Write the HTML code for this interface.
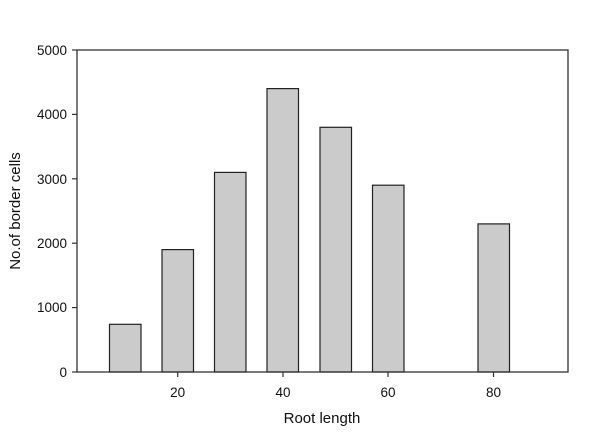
<!DOCTYPE html>
<html><head><style>body{margin:0;background:#fff}</style></head><body>
<svg width="613" height="429" xmlns="http://www.w3.org/2000/svg" font-family="Liberation Sans, sans-serif">
<rect width="613" height="429" fill="#fff"/>
<g fill="#cbcbcb" stroke="#222" stroke-width="1.2">
<rect x="109.5" y="324.3" width="31.5" height="47.7"/>
<rect x="162" y="249.6" width="31.5" height="122.4"/>
<rect x="214.5" y="172.4" width="31.5" height="199.6"/>
<rect x="267" y="88.6" width="31.5" height="283.4"/>
<rect x="320" y="127.3" width="31.5" height="244.7"/>
<rect x="372.5" y="185.2" width="31.5" height="186.8"/>
<rect x="478" y="223.9" width="31.5" height="148.1"/>
</g>
<rect x="77" y="50" width="491" height="322" fill="none" stroke="#333" stroke-width="1.3"/>
<g stroke="#333" stroke-width="1.2">
<line x1="72" y1="372" x2="77" y2="372"/><line x1="72" y1="307.6" x2="77" y2="307.6"/>
<line x1="72" y1="243.2" x2="77" y2="243.2"/><line x1="72" y1="178.8" x2="77" y2="178.8"/>
<line x1="72" y1="114.4" x2="77" y2="114.4"/><line x1="72" y1="50" x2="77" y2="50"/>
<line x1="177.7" y1="372" x2="177.7" y2="377"/><line x1="283" y1="372" x2="283" y2="377"/>
<line x1="388" y1="372" x2="388" y2="377"/><line x1="493.5" y1="372" x2="493.5" y2="377"/>
</g>
<g font-size="13.5" fill="#111" text-anchor="end">
<text x="67" y="377">0</text><text x="67" y="312">1000</text><text x="67" y="248">2000</text>
<text x="67" y="184">3000</text><text x="67" y="119">4000</text><text x="67" y="55">5000</text>
</g>
<g font-size="13.5" fill="#111" text-anchor="middle">
<text x="177.7" y="397">20</text><text x="283" y="397">40</text><text x="388" y="397">60</text><text x="493.5" y="397">80</text>
</g>
<text x="322" y="423" font-size="15" text-anchor="middle" fill="#111">Root length</text>
<text transform="translate(20,211) rotate(-90)" font-size="15" text-anchor="middle" fill="#111">No.of border cells</text>
</svg>
</body></html>
